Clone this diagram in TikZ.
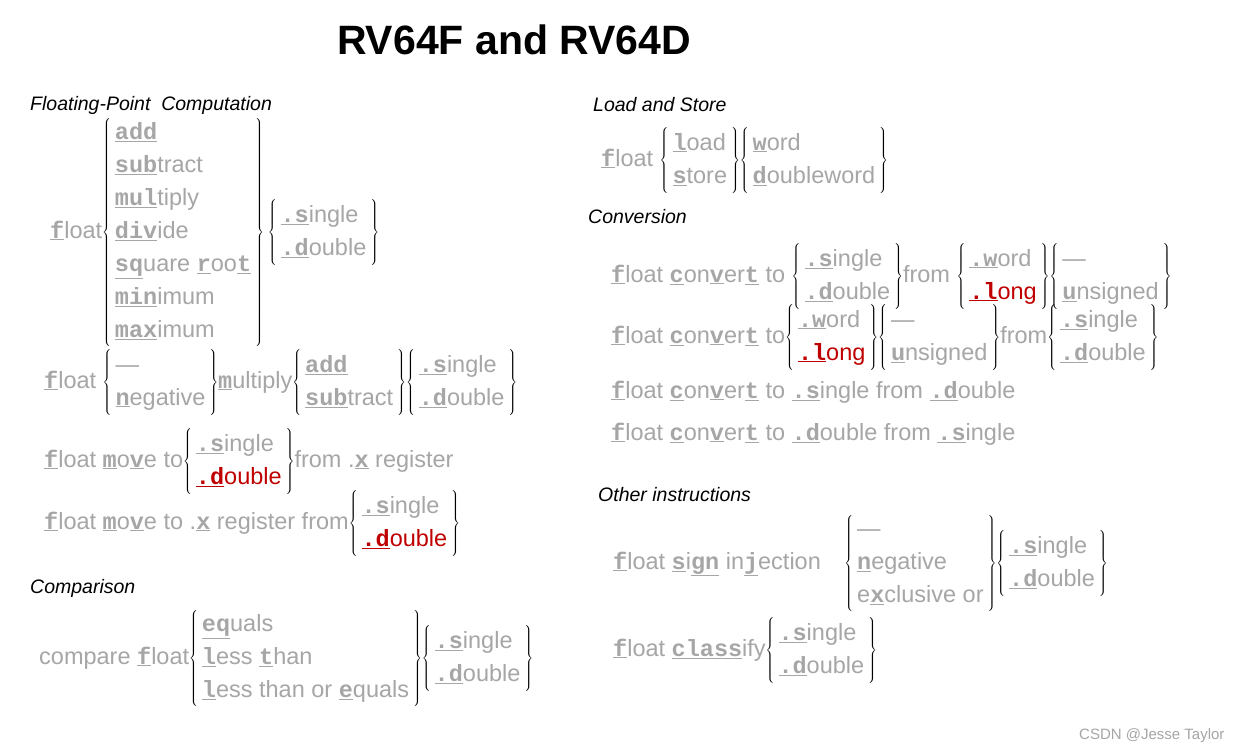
\documentclass[tikz,border=0pt]{standalone}
\usepackage{fontspec}
\setmainfont{Liberation Sans}
\newfontfamily\monof{Liberation Mono}
\definecolor{txtgray}{HTML}{A6A6A6}
\definecolor{darkred}{HTML}{C00000}
\newcommand\kw[1]{$\underline{\hbox{\monof\bfseries #1}}$}
\newcommand\kwr[1]{{\color{darkred}\kw{#1}}}
\newcommand\rd[1]{{\color{darkred}#1}}
\newcommand\grp[1]{$\color{black}\left\{\color{txtgray}\begin{tabular}{@{\,}l@{\,}}#1\end{tabular}\color{black}\right\}$}
\tikzset{
  item/.style={anchor=west, inner sep=0pt, text=txtgray, font=\fontsize{23.5}{33}\selectfont},
  head/.style={anchor=west, inner sep=0pt, font=\fontsize{19.5}{22}\selectfont\itshape},
}
\begin{document}
\begin{tikzpicture}[x=1pt, y=-1pt]
  \useasboundingbox[fill=white] (0,0) rectangle (1242,755);
  % title and headers
  \node [font=\fontsize{41}{44}\selectfont\bfseries] (title) at (514,40) {RV64F and RV64D};
  \node [head] (hcomp) at (30,105) {Floating-Point\ \ Computation};
  \node [head] (hls) at (593,105) {Load and Store};
  \node [head] (hconv) at (588,217) {Conversion};
  \node [head] (hother) at (598,495) {Other instructions};
  \node [head] (hcmp) at (30,588) {Comparison};

  % left column
  \node [item] (arith) at (50,232) {\kw{f}loat\grp{\kw{add}\\\kw{sub}tract\\\kw{mul}tiply\\\kw{div}ide\\\kw{sq}uare \kw{r}oo\kw{t}\\\kw{min}imum\\\kw{max}imum}\,\grp{\kw{.s}ingle\\\kw{.d}ouble}};
  \node [item] (fma) at (44,382) {\kw{f}loat\ \grp{—\\\kw{n}egative}\kw{m}ultiply\grp{\kw{add}\\\kw{sub}tract}\grp{\kw{.s}ingle\\\kw{.d}ouble}};
  \node [item] (mvx) at (44,461) {\kw{f}loat \kw{m}o\kw{v}e to\grp{\kw{.s}ingle\\\kwr{.d}\rd{ouble}}from .\kw{x} register};
  \node [item] (mvf) at (44,523) {\kw{f}loat \kw{m}o\kw{v}e to .\kw{x} register from\grp{\kw{.s}ingle\\\kwr{.d}\rd{ouble}}};
  \node [item] (cmp) at (39,658) {compare \kw{f}loat\grp{\kw{eq}uals\\\kw{l}ess \kw{t}han\\\kw{l}ess than or \kw{e}quals}\grp{\kw{.s}ingle\\\kw{.d}ouble}};

  % right column
  \node [item] (ls) at (601,160) {\kw{f}loat\ \grp{\kw{l}oad\\\kw{s}tore}\grp{\kw{w}ord\\\kw{d}oubleword}};
  \node [item] (cvt1) at (611,276) {\kw{f}loat \kw{c}on\kw{v}er\kw{t} to\ \grp{\kw{.s}ingle\\\kw{.d}ouble}from\ \grp{\kw{.w}ord\\\kwr{.l}\rd{ong}}\grp{—\\\kw{u}nsigned}};
  \node [item] (cvt2) at (611,337) {\kw{f}loat \kw{c}on\kw{v}er\kw{t} to\grp{\kw{.w}ord\\\kwr{.l}\rd{ong}}\grp{—\\\kw{u}nsigned}from\grp{\kw{.s}ingle\\\kw{.d}ouble}};
  \node [item] (cvt3) at (611,392) {\kw{f}loat \kw{c}on\kw{v}er\kw{t} to \kw{.s}ingle from \kw{.d}ouble};
  \node [item] (cvt4) at (611,434) {\kw{f}loat \kw{c}on\kw{v}er\kw{t} to \kw{.d}ouble from \kw{.s}ingle};
  \node [item] (sgnj) at (613,563) {\kw{f}loat \kw{s}i\kw{gn} in\kw{j}ection\quad\grp{—\\\kw{n}egative\\e\kw{x}clusive or}\grp{\kw{.s}ingle\\\kw{.d}ouble}};
  \node [item] (class) at (613,650) {\kw{f}loat \kw{class}ify\grp{\kw{.s}ingle\\\kw{.d}ouble}};

  % watermark
  \node [anchor=east, text=txtgray, font=\fontsize{15}{18}\selectfont] (mark) at (1228,736) {CSDN @Jesse Taylor};
\end{tikzpicture}
\end{document}
